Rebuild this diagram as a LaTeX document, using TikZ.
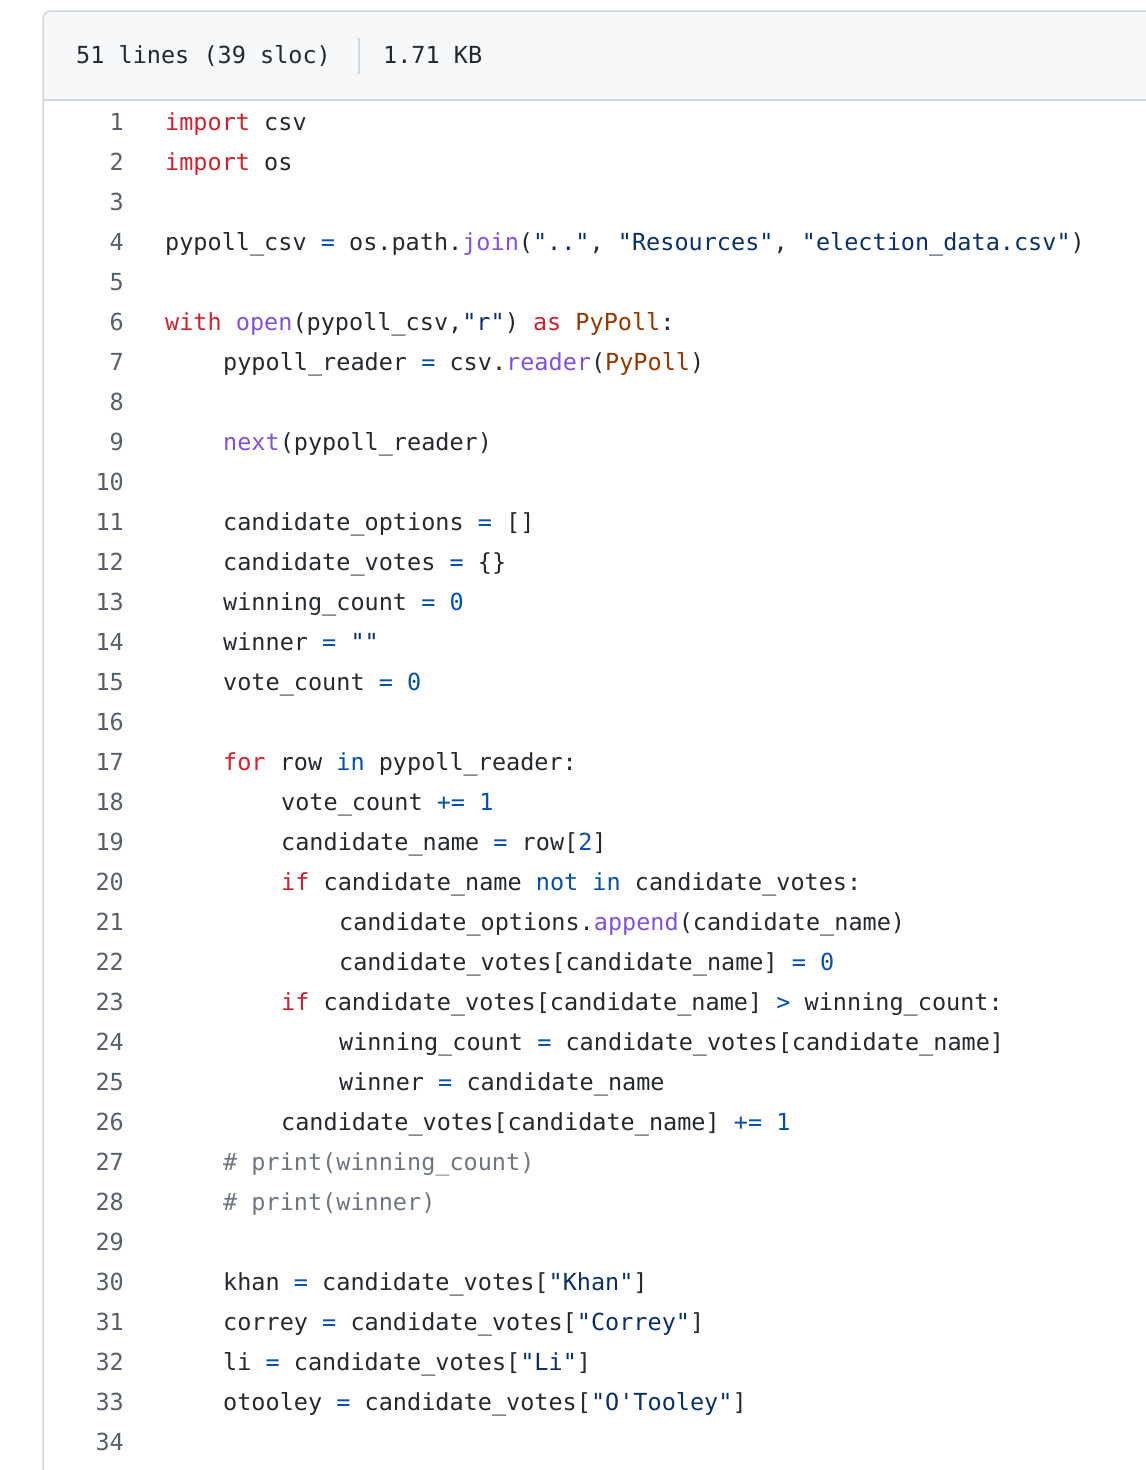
\documentclass[tikz,border=0pt]{standalone}
\usepackage{fontspec}
\newfontfamily\codefont{DejaVu Sans Mono}
\definecolor{kwc}{HTML}{CF222E}
\definecolor{fnc}{HTML}{8250DF}
\definecolor{stc}{HTML}{0A3069}
\definecolor{nmc}{HTML}{0550AE}
\definecolor{cmc}{HTML}{6E7781}
\definecolor{vrc}{HTML}{953800}
\definecolor{txc}{HTML}{24292F}
\definecolor{lnc}{HTML}{57606A}
\definecolor{bdc}{HTML}{D0D7DE}
\definecolor{hdc}{HTML}{F6F8FA}
\newcommand\kw[1]{\textcolor{kwc}{#1}}
\newcommand\fn[1]{\textcolor{fnc}{#1}}
\newcommand\st[1]{\textcolor{stc}{#1}}
\newcommand\nm[1]{\textcolor{nmc}{#1}}
\newcommand\op[1]{\textcolor{nmc}{#1}}
\newcommand\cm[1]{\textcolor{cmc}{#1}}
\newcommand\vr[1]{\textcolor{vrc}{#1}}
\tikzset{
 code/.style={anchor=base west,inner sep=0pt,font=\codefont\fontsize{23.5}{28}\selectfont,text=txc},
 lnum/.style={anchor=base east,inner sep=0pt,font=\codefont\fontsize{23.5}{28}\selectfont,text=lnc}
}
\begin{document}
\begin{tikzpicture}[x=1pt,y=-1pt]
\useasboundingbox (0,0) rectangle (1146,1470);
\fill[hdc,rounded corners=8pt] (43,11) rectangle (1160,100);
\fill[hdc] (43,60) rectangle (1160,100);
\draw[bdc,line width=1.5pt,rounded corners=8pt] (43,1480) -- (43,11) -- (1160,11);
\draw[bdc,line width=1.5pt] (43,100) -- (1160,100);
\draw[bdc,line width=1.5pt] (359,38) -- (359,74);
\node[code] (h1) at (76,63) {51 lines (39 sloc)};
\node[code] (h2) at (383,63) {1.71 KB};
\foreach \i in {1,...,34}{\node[lnum] (n\i) at (124,{122+40*(\i-1)+8}) {\i};}
\newcommand\cl[3]{\node[code] (c#1) at ({165+58*#2},{122+40*(#1-1)+8}) {#3};}
\cl{1}{0}{\kw{import} csv}
\cl{2}{0}{\kw{import} os}
\cl{4}{0}{pypoll\_csv \op{=} os.path.\fn{join}(\st{".."}, \st{"Resources"}, \st{"election\_data.csv"})}
\cl{6}{0}{\kw{with} \fn{open}(pypoll\_csv,\st{"r"}) \kw{as} \vr{PyPoll}:}
\cl{7}{1}{pypoll\_reader \op{=} csv.\fn{reader}(\vr{PyPoll})}
\cl{9}{1}{\fn{next}(pypoll\_reader)}
\cl{11}{1}{candidate\_options \op{=} []}
\cl{12}{1}{candidate\_votes \op{=} \{\}}
\cl{13}{1}{winning\_count \op{=} \nm{0}}
\cl{14}{1}{winner \op{=} \st{""}}
\cl{15}{1}{vote\_count \op{=} \nm{0}}
\cl{17}{1}{\kw{for} row \op{in} pypoll\_reader:}
\cl{18}{2}{vote\_count \op{+=} \nm{1}}
\cl{19}{2}{candidate\_name \op{=} row[\nm{2}]}
\cl{20}{2}{\kw{if} candidate\_name \op{not} \op{in} candidate\_votes:}
\cl{21}{3}{candidate\_options.\fn{append}(candidate\_name)}
\cl{22}{3}{candidate\_votes[candidate\_name] \op{=} \nm{0}}
\cl{23}{2}{\kw{if} candidate\_votes[candidate\_name] \op{>} winning\_count:}
\cl{24}{3}{winning\_count \op{=} candidate\_votes[candidate\_name]}
\cl{25}{3}{winner \op{=} candidate\_name}
\cl{26}{2}{candidate\_votes[candidate\_name] \op{+=} \nm{1}}
\cl{27}{1}{\cm{\# print(winning\_count)}}
\cl{28}{1}{\cm{\# print(winner)}}
\cl{30}{1}{khan \op{=} candidate\_votes[\st{"Khan"}]}
\cl{31}{1}{correy \op{=} candidate\_votes[\st{"Correy"}]}
\cl{32}{1}{li \op{=} candidate\_votes[\st{"Li"}]}
\cl{33}{1}{otooley \op{=} candidate\_votes[\st{"O'Tooley"}]}
\end{tikzpicture}
\end{document}
